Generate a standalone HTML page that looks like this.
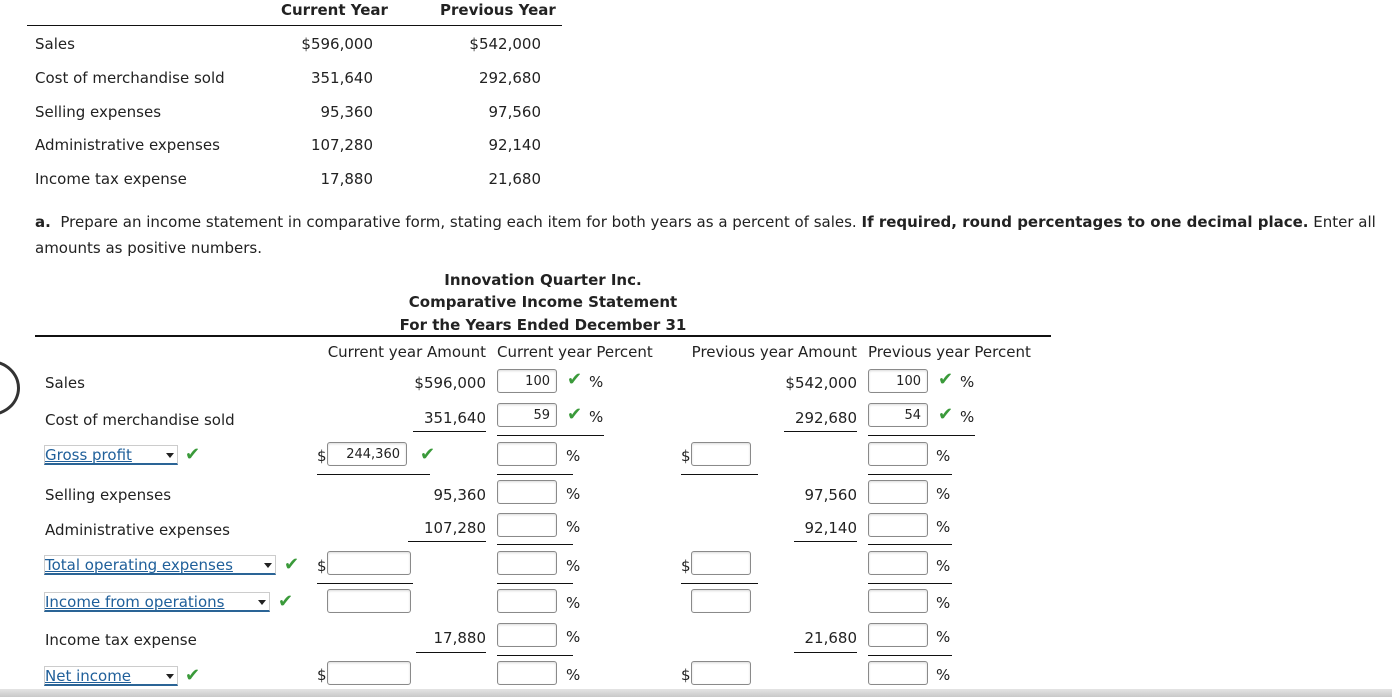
<!DOCTYPE html>
<html><head><meta charset="utf-8">
<style>
html,body{margin:0;padding:0;}
body{width:1392px;height:697px;position:relative;overflow:hidden;background:#fff;font-family:"DejaVu Sans","Liberation Sans",sans-serif;font-size:15px;color:#222;}
.t{position:absolute;line-height:18px;white-space:nowrap;margin-top:1px;}
.b{font-weight:bold;}
.hl{position:absolute;height:1px;background:#111;}
.in{position:absolute;height:24px;border:1px solid #8a8a8a;border-radius:3px;background:#fff;box-shadow:inset 0 1px 2px rgba(0,0,0,.15);font-size:13px;line-height:24px;text-align:right;padding-right:6px;box-sizing:border-box;}
.ck{position:absolute;color:#3a9a3a;font-size:18px;line-height:20px;}
.dd{position:absolute;height:20px;border:1px solid #ccc;border-bottom:2px solid #2a6496;color:#1f5f9a;text-decoration:underline;line-height:18px;padding-left:0;box-sizing:border-box;}
.dd::after{content:"";position:absolute;right:3px;top:7px;border-left:4px solid transparent;border-right:4px solid transparent;border-top:5px solid #222;}
</style></head><body>
<div class="t b" style="left:281px;top:0px">Current Year</div>
<div class="t b" style="left:440px;top:0px">Previous Year</div>
<div class="hl" style="left:27px;top:25px;width:535px"></div>

<div class="t" style="left:35px;top:34px">Sales</div>
<div class="t" style="left:35px;top:68px">Cost of merchandise sold</div>
<div class="t" style="left:35px;top:102px">Selling expenses</div>
<div class="t" style="left:35px;top:135px">Administrative expenses</div>
<div class="t" style="left:35px;top:169px">Income tax expense</div>
<div class="t" style="right:1019px;top:34px">$596,000</div>
<div class="t" style="right:1019px;top:68px">351,640</div>
<div class="t" style="right:1019px;top:102px">95,360</div>
<div class="t" style="right:1019px;top:135px">107,280</div>
<div class="t" style="right:1019px;top:169px">17,880</div>
<div class="t" style="right:851px;top:34px">$542,000</div>
<div class="t" style="right:851px;top:68px">292,680</div>
<div class="t" style="right:851px;top:102px">97,560</div>
<div class="t" style="right:851px;top:135px">92,140</div>
<div class="t" style="right:851px;top:169px">21,680</div>

<div class="t" style="left:35px;top:212px"><b>a.</b>&nbsp; Prepare an income statement in comparative form, stating each item for both years as a percent of sales. <b>If required, round percentages to one decimal place.</b> Enter all</div>
<div class="t" style="left:35px;top:238px">amounts as positive numbers.</div>

<div class="t b" style="left:343px;width:400px;text-align:center;top:270px">Innovation Quarter Inc.</div>
<div class="t b" style="left:343px;width:400px;text-align:center;top:292px">Comparative Income Statement</div>
<div class="t b" style="left:343px;width:400px;text-align:center;top:315px">For the Years Ended December 31</div>
<div class="hl" style="left:35px;top:335px;width:1016px;height:2px"></div>

<div class="t" style="right:906px;top:342px">Current year Amount</div>
<div class="t" style="left:497px;top:342px">Current year Percent</div>
<div class="t" style="right:535px;top:342px">Previous year Amount</div>
<div class="t" style="left:868px;top:342px">Previous year Percent</div>

<div style="position:absolute;left:-40px;top:360px;width:54px;height:50px;border:3px solid #333;border-radius:50%"></div>

<!-- Sales -->
<div class="t" style="left:45px;top:373px">Sales</div>
<div class="t" style="right:906px;top:373px">$596,000</div>
<div class="in" style="left:497px;top:369px;width:60px">100</div>
<div class="ck" style="left:567px;top:370px">✔</div>
<div class="t" style="left:589px;top:372px">%</div>
<div class="t" style="right:535px;top:373px">$542,000</div>
<div class="in" style="left:868px;top:369px;width:60px">100</div>
<div class="ck" style="left:938px;top:370px">✔</div>
<div class="t" style="left:960px;top:372px">%</div>

<!-- COGS -->
<div class="t" style="left:45px;top:410px">Cost of merchandise sold</div>
<div class="t" style="right:906px;top:408px">351,640</div>
<div class="in" style="left:497px;top:403px;width:60px">59</div>
<div class="ck" style="left:567px;top:405px">✔</div>
<div class="t" style="left:589px;top:407px">%</div>
<div class="hl" style="left:413px;top:431px;width:73px"></div>
<div class="hl" style="left:497px;top:435px;width:107px"></div>
<div class="t" style="right:535px;top:408px">292,680</div>
<div class="in" style="left:868px;top:403px;width:60px">54</div>
<div class="ck" style="left:938px;top:405px">✔</div>
<div class="t" style="left:960px;top:407px">%</div>
<div class="hl" style="left:784px;top:431px;width:73px"></div>
<div class="hl" style="left:868px;top:435px;width:107px"></div>

<!-- Gross profit -->
<div class="dd" style="left:44px;top:445px;width:134px">Gross profit</div>
<div class="ck" style="left:185px;top:445px">✔</div>
<div class="t" style="left:317px;top:446px">$</div>
<div class="in" style="left:327px;top:442px;width:80px">244,360</div>
<div class="ck" style="left:420px;top:445px">✔</div>
<div class="hl" style="left:317px;top:474px;width:113px"></div>
<div class="in" style="left:497px;top:442px;width:60px"></div>
<div class="t" style="left:566px;top:446px">%</div>
<div class="hl" style="left:497px;top:474px;width:76px"></div>
<div class="t" style="left:681px;top:446px">$</div>
<div class="in" style="left:691px;top:442px;width:60px"></div>
<div class="hl" style="left:681px;top:474px;width:77px"></div>
<div class="in" style="left:868px;top:442px;width:60px"></div>
<div class="t" style="left:936px;top:446px">%</div>
<div class="hl" style="left:868px;top:474px;width:84px"></div>

<!-- Selling -->
<div class="t" style="left:45px;top:485px">Selling expenses</div>
<div class="t" style="right:906px;top:485px">95,360</div>
<div class="in" style="left:497px;top:480px;width:60px"></div>
<div class="t" style="left:566px;top:484px">%</div>
<div class="t" style="right:535px;top:485px">97,560</div>
<div class="in" style="left:868px;top:480px;width:60px"></div>
<div class="t" style="left:936px;top:484px">%</div>

<!-- Admin -->
<div class="t" style="left:45px;top:520px">Administrative expenses</div>
<div class="t" style="right:906px;top:518px">107,280</div>
<div class="in" style="left:497px;top:513px;width:60px"></div>
<div class="t" style="left:566px;top:517px">%</div>
<div class="hl" style="left:408px;top:541px;width:78px"></div>
<div class="hl" style="left:497px;top:544px;width:76px"></div>
<div class="t" style="right:535px;top:518px">92,140</div>
<div class="in" style="left:868px;top:513px;width:60px"></div>
<div class="t" style="left:936px;top:517px">%</div>
<div class="hl" style="left:794px;top:541px;width:63px"></div>
<div class="hl" style="left:868px;top:544px;width:84px"></div>

<!-- Total operating expenses -->
<div class="dd" style="left:44px;top:555px;width:232px">Total operating expenses</div>
<div class="ck" style="left:284px;top:555px">✔</div>
<div class="t" style="left:317px;top:556px">$</div>
<div class="in" style="left:327px;top:551px;width:84px"></div>
<div class="hl" style="left:317px;top:583px;width:96px"></div>
<div class="in" style="left:497px;top:551px;width:60px"></div>
<div class="t" style="left:566px;top:556px">%</div>
<div class="hl" style="left:497px;top:583px;width:76px"></div>
<div class="t" style="left:681px;top:556px">$</div>
<div class="in" style="left:691px;top:551px;width:60px"></div>
<div class="hl" style="left:681px;top:583px;width:77px"></div>
<div class="in" style="left:868px;top:551px;width:60px"></div>
<div class="t" style="left:936px;top:556px">%</div>
<div class="hl" style="left:868px;top:583px;width:84px"></div>

<!-- Income from operations -->
<div class="dd" style="left:44px;top:592px;width:226px">Income from operations</div>
<div class="ck" style="left:278px;top:592px">✔</div>
<div class="in" style="left:327px;top:589px;width:84px"></div>
<div class="in" style="left:497px;top:589px;width:60px"></div>
<div class="t" style="left:566px;top:593px">%</div>
<div class="in" style="left:691px;top:589px;width:60px"></div>
<div class="in" style="left:868px;top:589px;width:60px"></div>
<div class="t" style="left:936px;top:593px">%</div>

<!-- Income tax -->
<div class="t" style="left:45px;top:630px">Income tax expense</div>
<div class="t" style="right:906px;top:628px">17,880</div>
<div class="in" style="left:497px;top:623px;width:60px"></div>
<div class="t" style="left:566px;top:627px">%</div>
<div class="hl" style="left:416px;top:652px;width:70px"></div>
<div class="hl" style="left:497px;top:655px;width:76px"></div>
<div class="t" style="right:535px;top:628px">21,680</div>
<div class="in" style="left:868px;top:623px;width:60px"></div>
<div class="t" style="left:936px;top:627px">%</div>
<div class="hl" style="left:794px;top:652px;width:63px"></div>
<div class="hl" style="left:868px;top:655px;width:84px"></div>

<!-- Net income -->
<div class="dd" style="left:44px;top:666px;width:134px">Net income</div>
<div class="ck" style="left:185px;top:666px">✔</div>
<div class="t" style="left:317px;top:665px">$</div>
<div class="in" style="left:327px;top:661px;width:84px"></div>
<div class="in" style="left:497px;top:661px;width:60px"></div>
<div class="t" style="left:566px;top:665px">%</div>
<div class="t" style="left:681px;top:665px">$</div>
<div class="in" style="left:691px;top:661px;width:60px"></div>
<div class="in" style="left:868px;top:661px;width:60px"></div>
<div class="t" style="left:936px;top:665px">%</div>

<div style="position:absolute;left:0;top:689px;width:1392px;height:8px;background:linear-gradient(#e4e4e4,#c8c8c8)"></div>
</body></html>
